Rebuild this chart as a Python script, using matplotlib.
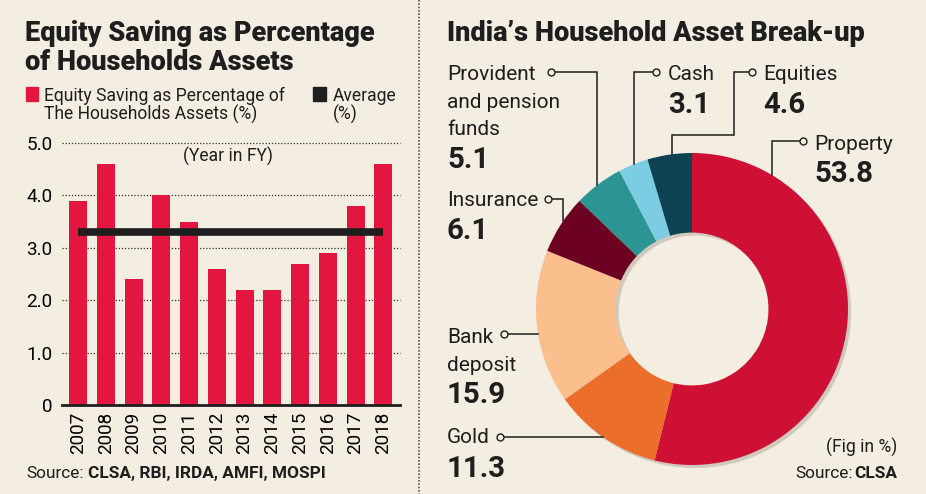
import numpy as np
import matplotlib
matplotlib.use('Agg')
import matplotlib.pyplot as plt

# ---- data ----
years = ['2007', '2008', '2009', '2010', '2011', '2012',
         '2013', '2014', '2015', '2016', '2017', '2018']
equity_share = [3.9, 4.6, 2.4, 4.0, 3.5, 2.6, 2.2, 2.2, 2.7, 2.9, 3.8, 4.6]
average_share = 3.3
yticks = [0, 1.0, 2.0, 3.0, 4.0, 5.0]
ytick_labels = ['0', '1.0', '2.0', '3.0', '4.0', '5.0']

asset_names = ['Property', 'Gold', 'Bank\ndeposit', 'Insurance',
               'Provident\nand pension\nfunds', 'Cash', 'Equities']
asset_values = [53.8, 11.3, 15.9, 6.1, 5.1, 3.1, 4.6]
asset_colors = ['#CE1034', '#EC6E2D', '#FBBF8E', '#6C0121',
                '#2A9593', '#7CCCE3', '#0D4253']

W, H = 926, 494
BG = '#F3EEE1'
RED = '#E3163F'
INK = '#1E1E1E'
HEAVY = 'heavy'

plt.rcParams['font.family'] = ['Roboto', 'DejaVu Sans']
plt.rcParams['text.color'] = INK

fig = plt.figure(figsize=(W / 100, H / 100), dpi=100, facecolor=BG)
renderer = fig.canvas.get_renderer()


def fit_size(s, width_px, weight='normal'):
    # font size (pt) that makes string s about width_px wide
    t = fig.text(0, 0, s, fontsize=10, fontweight=weight)
    w = t.get_window_extent(renderer).width
    t.remove()
    return 10 * width_px / w


TITLE = fit_size('Equity Saving as Percentage', 349, HEAVY)
LEG = fit_size('Equity Saving as Percentage of', 241)
SRC = fit_size('CLSA, RBI, IRDA, AMFI, MOSPI', 237, 'bold')
LAB = fit_size('and pension', 114)
VAL = fit_size('53.8', 59, 'bold')
TICK = fit_size('5.0', 26)


def px_rect(l, t, r, b):
    return [l / W, 1 - b / H, (r - l) / W, (b - t) / H]


# overlay in pixel coords for text and leader lines
ov = fig.add_axes([0, 0, 1, 1], zorder=5)
ov.set_xlim(0, W)
ov.set_ylim(H, 0)
ov.axis('off')
ov.patch.set_alpha(0)

# ---------------- left panel ----------------
ov.text(25, 41, 'Equity Saving as Percentage', fontsize=TITLE, fontweight=HEAVY, va='baseline')
ov.text(25, 70, 'of Households Assets', fontsize=TITLE, fontweight=HEAVY, va='baseline')

ov.add_patch(plt.Rectangle((26, 87), 12, 14, color=RED))
ov.text(44, 101, 'Equity Saving as Percentage of', fontsize=LEG, va='baseline')
ov.text(44, 120, 'The Households Assets (%)', fontsize=LEG, va='baseline')
ov.add_patch(plt.Rectangle((313, 87), 13, 14, color=INK))
ov.text(333, 101, 'Average', fontsize=LEG, va='baseline')
ov.text(333, 120, '(%)', fontsize=LEG, va='baseline')

ax = fig.add_axes(px_rect(62, 143, 400, 405))
ax.set_facecolor('none')
x = np.arange(len(years))
ax.bar(x, equity_share, width=0.65, color=RED, zorder=2)
ax.hlines(average_share, x[0], x[-1], color=INK, lw=5.5, zorder=3)
ax.set_xlim(-0.58, 11.6)
ax.set_ylim(0, 5.0)
ax.set_yticks(yticks)
ax.set_yticklabels(ytick_labels, fontsize=TICK)
ax.set_xticks(x)
ax.set_xticklabels(years, rotation=90, fontsize=TICK)
ax.tick_params(length=0, pad=7)
ax.tick_params(axis='x', pad=5)
for s in ['top', 'right', 'left']:
    ax.spines[s].set_visible(False)
ax.spines['bottom'].set_linewidth(2)
ax.spines['bottom'].set_color(INK)
for t in yticks[1:]:
    ax.axhline(t, color='#333333', lw=0.9, ls=(0, (1, 1.5)), zorder=1, clip_on=False)
ax.text(0.49, 0.95, '(Year in FY)', transform=ax.transAxes, ha='center',
        va='center', fontsize=LEG)

ov.text(26, 478, 'Source:', fontsize=SRC, va='baseline')
ov.text(88, 478, 'CLSA, RBI, IRDA, AMFI, MOSPI', fontsize=SRC, fontweight='bold', va='baseline')

# separator
ov.plot([418.5, 418.5], [0, H], color='#555555', lw=1.2, ls=(0, (1, 1)))

# ---------------- right panel ----------------
ov.text(447, 41, 'India\u2019s Household Asset Break-up', fontsize=TITLE,
        fontweight=HEAVY, va='baseline')

cx, cy, R = 692, 309, 156
dax = fig.add_axes(px_rect(cx - R, cy - R, cx + R, cy + R), zorder=2)
dax.pie(asset_values, colors=asset_colors, startangle=90, counterclock=False,
        wedgeprops=dict(width=0.51, linewidth=0),
        shadow=dict(ox=0.014, oy=-0.014, facecolor='#8d887c', edgecolor='none', alpha=0.35))
dax.set_xlim(-1, 1)
dax.set_ylim(-1, 1)
dax.set_aspect('equal')
dax.axis('off')


def edge_y(xp):
    return cy - np.sqrt(R ** 2 - (xp - cx) ** 2)


def edge_x(yp):
    return cx - np.sqrt(R ** 2 - (yp - cy) ** 2)


# label layout: text x, first-line baseline, value baseline, leader points, last direction
layout = {
    'Property': (814, 150, 182, [(803, 141), (772, 141)], 'v'),
    'Gold': (447, 443, 477, [(500, 437)], 'h'),
    'Bank\ndeposit': (447, 343, 403, [(504, 334)], 'h'),
    'Insurance': (447, 206, 239, [(548, 199), (563, 199)], 'v'),
    'Provident\nand pension\nfunds': (447, 80, 168, [(551, 72), (597, 72)], 'v'),
    'Cash': (668, 80, 113, [(656, 72), (634, 72)], 'v'),
    'Equities': (763, 80, 113, [(752, 72), (734, 72), (734, 135), (672, 135)], 'v'),
}

for name, val in zip(asset_names, asset_values):
    tx, ty, vy, pts, d = layout[name]
    for i, line in enumerate(name.split('\n')):
        ov.text(tx, ty + i * 27.5, line, fontsize=LAB, va='baseline')
    ov.text(tx, vy, f'{val:.1f}', fontsize=VAL, fontweight='bold', va='baseline')
    lx, ly = pts[-1]
    if d == 'v':
        end = (lx, edge_y(lx))
    else:
        end = (edge_x(ly), ly)
    path = pts + [end]
    ov.plot([p[0] for p in path], [p[1] for p in path], color=INK, lw=1.1,
            solid_joinstyle='miter')
    ov.plot(pts[0][0], pts[0][1], 'o', ms=5, mfc=BG, mec=INK, mew=1.0)

ov.text(897, 453, '(Fig in %)', fontsize=LEG, ha='right', va='baseline')
ov.text(897, 478, 'CLSA', fontsize=SRC, fontweight='bold', ha='right', va='baseline')
ov.text(853, 478, 'Source:', fontsize=SRC, ha='right', va='baseline')

fig.savefig('out.png', dpi=100, facecolor=BG)
